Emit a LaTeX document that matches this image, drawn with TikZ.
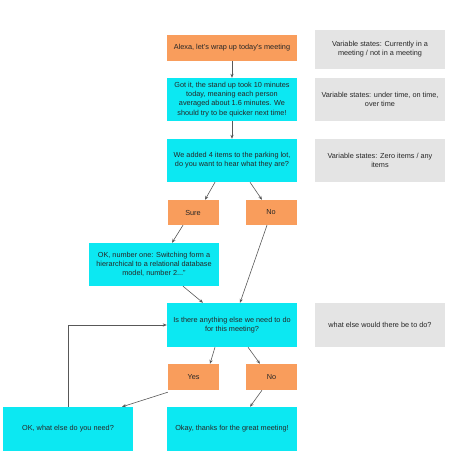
\documentclass[tikz,border=0pt]{standalone}
\usepackage{fontspec}
\setmainfont{Liberation Sans}
\usetikzlibrary{arrows.meta}
\definecolor{orng}{HTML}{F99D5C}
\definecolor{cyn}{HTML}{0CE8F2}
\definecolor{gry}{HTML}{E4E4E4}
\definecolor{lne}{HTML}{585858}
\begin{document}
\begin{tikzpicture}[x=1pt,y=-1pt,
  box/.style={anchor=center,inner sep=0pt,align=center,font=\fontsize{7.3}{9.2}\selectfont,text=black!85},
  wide/.style={box,minimum width=130pt},
  ora/.style={box,fill=orng,minimum width=51pt,minimum height=25pt},
  cy/.style={wide,fill=cyn},
  gr/.style={wide,fill=gry},
  arr/.style={draw=lne,line width=0.6pt,-{Stealth[length=4pt,width=3.2pt]}}]
\useasboundingbox (0,0) rectangle (474,469);
\node[wide,fill=orng,minimum height=26pt] (b1) at (232,48) {Alexa, let's wrap up today's meeting};
\node[cy,minimum height=43pt] (b2) at (232,99.5) {Got it, the stand up took 10 minutes\\today, meaning each person\\averaged about 1.6 minutes. We\\should try to be quicker next time!};
\node[cy,minimum height=43pt] (b3) at (232,160.5) {We added 4 items to the parking lot,\\do you want to hear what they are?};
\node[gr,minimum height=39pt] (g1) at (380,49.5) {Variable states: Currently in a\\meeting / not in a meeting};
\node[gr,minimum height=43pt] (g2) at (380,99.5) {Variable states: under time, on time,\\over time};
\node[gr,minimum height=43pt] (g3) at (380,160.5) {Variable states: Zero items / any\\items};
\node[ora] (sure) at (193,212.5) {Sure};
\node[ora] (no1) at (271,212.5) {No};
\node[cy,minimum height=43pt] (ok1) at (154,264.5) {OK, number one: Switching form a\\hierarchical to a relational database\\model, number 2...''};
\node[cy,minimum height=44pt] (is) at (232,325) {Is there anything else we need to do\\for this meeting?};
\node[gr,minimum height=44pt] (g4) at (380,325) {what else would there be to do?};
\node[ora,minimum height=26pt] (yes) at (193.5,377) {Yes};
\node[ora,minimum height=26pt] (no2) at (271.5,377) {No};
\node[cy,minimum height=44pt] (okw) at (68,429) {OK, what else do you need?};
\node[cy,minimum height=44pt] (okt) at (232,429) {Okay, thanks for the great meeting!};
\draw[arr] (b1.south) -- (b2.north);
\draw[arr] (b2.south) -- (b3.north);
\draw[arr] ([xshift=-17pt]b3.south) -- ([xshift=12pt]sure.north);
\draw[arr] ([xshift=18pt]b3.south) -- ([xshift=-9pt]no1.north);
\draw[arr] ([xshift=-10pt]sure.south) -- ([xshift=18pt]ok1.north);
\draw[arr] ([xshift=-4pt]no1.south) -- ([xshift=8pt]is.north);
\draw[arr] ([xshift=29pt]ok1.south) -- ([xshift=-29pt]is.north);
\draw[arr] ([xshift=-17pt]is.south) -- ([xshift=16.5pt]yes.north);
\draw[arr] ([xshift=16pt]is.south) -- ([xshift=-11.5pt]no2.north);
\draw[arr] ([yshift=-2pt]yes.south west) -- ([xshift=54pt]okw.north);
\draw[arr] ([xshift=-9.5pt]no2.south) -- ([xshift=18pt]okt.north);
\draw[arr] (okw.north) |- (is.west);
\end{tikzpicture}
\end{document}
